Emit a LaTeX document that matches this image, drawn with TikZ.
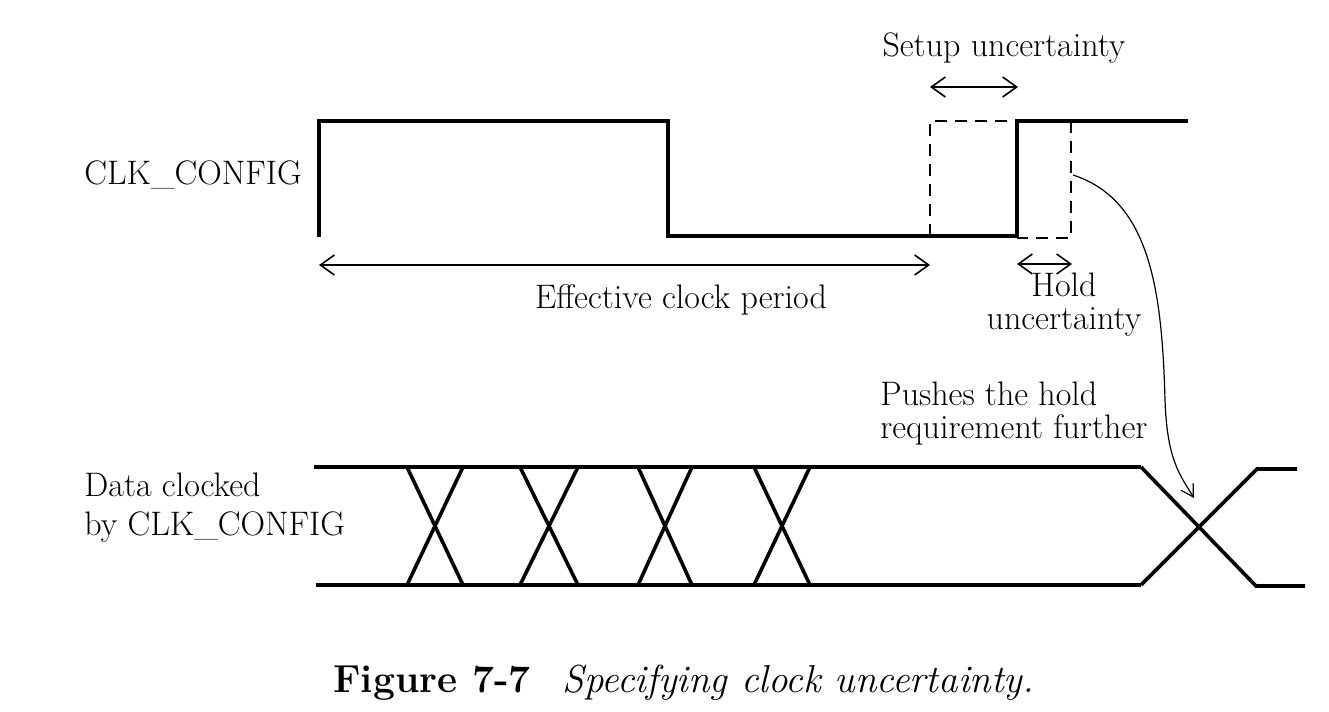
\documentclass[tikz,border=0pt]{standalone}
\usetikzlibrary{arrows.meta}
\begin{document}
\begin{tikzpicture}[x=0.5pt,y=-0.5pt,
  wave/.style={line width=2pt,line join=miter,line cap=butt},
  dwave/.style={line width=1.8pt,line cap=butt},
  unc/.style={line width=1.3pt,dash pattern=on 6pt off 4pt},
  dim/.style={line width=0.8pt,{Straight Barb[length=7pt,width=10pt]}-{Straight Barb[length=7pt,width=10pt]}},
  lbl/.style={font=\fontsize{17}{16.5}\selectfont,inner sep=0pt,align=center},
  curv/.style={line width=0.6pt,-{Straight Barb[length=6pt,width=7pt]}}]
\useasboundingbox (0,0) rectangle (1329,712);
% clock waveform
\coordinate (c0) at (319,237);
\coordinate (c1) at (319,121);
\coordinate (c2) at (668,121);
\coordinate (c3) at (668,236);
\coordinate (c4) at (1017,236);
\coordinate (c5) at (1017,121);
\coordinate (c6) at (1188,121);
\draw[wave] (c0) -- (c1) -- (c2) -- (c3) -- (c4) -- (c5) -- (c6);
% setup uncertainty dashed
\coordinate (s0) at (930,236);
\coordinate (s1) at (930,121);
\draw[unc] (s0) -- (s1) -- (c5);
% hold uncertainty dashed
\coordinate (h0) at (1071,121);
\coordinate (h1) at (1071,238);
\coordinate (h2) at (1017,238);
\draw[unc] (h0) -- (h1) -- (h2);
% labels
\node[lbl,anchor=west] (clk) at (84,175) {CLK\_CONFIG};
\node[lbl] (setup) at (1004,48) {Setup uncertainty};
\coordinate (sa0) at (930,87);
\coordinate (sa1) at (1018,87);
\draw[dim] (sa0) -- (sa1);
\coordinate (ea0) at (319,265);
\coordinate (ea1) at (930,265);
\draw[dim] (ea0) -- (ea1);
\node[lbl] (eff) at (681,300) {Effective clock period};
\coordinate (ha0) at (1017,264);
\coordinate (ha1) at (1072,264);
\draw[dim] (ha0) -- (ha1);
\node[lbl] (hold) at (1064,305) {Hold\\[0pt]uncertainty};
\node[lbl,align=left,anchor=west] (push) at (880,414) {Pushes the hold\\[0pt]requirement further};
\node[lbl,align=left,anchor=west,font=\fontsize{17}{19.5}\selectfont] (data) at (84,508) {Data clocked\\by CLK\_CONFIG};
% data waveform
\coordinate (t0) at (314,467);
\coordinate (t1) at (1141,467);
\coordinate (b0) at (316,585);
\coordinate (b1) at (1141,585);
\draw[dwave] (t0) -- (t1);
\draw[dwave] (b0) -- (b1);
\foreach \l/\r [count=\i] in {407/463,520/578,638/692,754/810}{
  \coordinate (xa\i) at (\l,467);
  \coordinate (xb\i) at (\r,585);
  \coordinate (xc\i) at (\l,585);
  \coordinate (xd\i) at (\r,467);
  \draw[dwave] (xa\i) -- (xb\i);
  \draw[dwave] (xc\i) -- (xd\i);
}
\coordinate (t2) at (1256,586);
\coordinate (t3) at (1305,586);
\coordinate (b2) at (1257,469);
\coordinate (b3) at (1297,469);
\draw[dwave,line join=miter] (t1) -- (t2) -- (t3);
\draw[dwave,line join=miter] (b1) -- (b2) -- (b3);
% curved arrow
\coordinate (ca0) at (1073,175);
\coordinate (ca1) at (1165,400);
\coordinate (ca2) at (1194,498);
\draw[curv] (ca0) .. controls (1150,200) and (1162,290) .. (ca1) .. controls (1167,460) and (1180,475) .. (ca2);
% caption
\node[inner sep=0pt,anchor=west,font=\fontsize{19.5}{19.5}\selectfont] (cap) at (333,683) {\textbf{Figure 7-7}\hspace{16pt}\textit{Specifying clock uncertainty.}};
\end{tikzpicture}
\end{document}
